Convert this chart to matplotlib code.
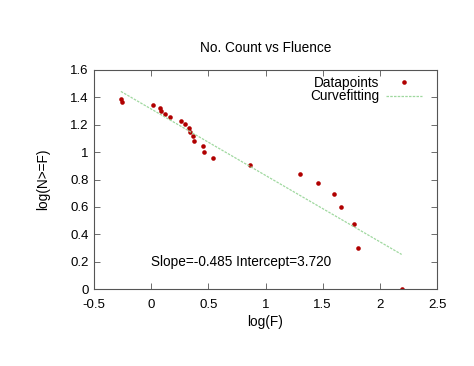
import numpy as np
import matplotlib
matplotlib.use("Agg")
import matplotlib.pyplot as plt

plt.rcParams['font.family'] = ['Liberation Sans', 'DejaVu Sans']

# data
log_f = [-0.265, -0.259, 0.014, 0.076, 0.085, 0.120, 0.164, 0.259, 0.294,
         0.332, 0.338, 0.367, 0.371, 0.450, 0.459, 0.538, 0.865, 1.306,
         1.459, 1.598, 1.662, 1.776, 1.809, 2.191]
log_n = [1.385, 1.363, 1.346, 1.321, 1.302, 1.280, 1.258, 1.231, 1.207,
         1.178, 1.149, 1.115, 1.080, 1.042, 1.000, 0.956, 0.903, 0.842,
         0.777, 0.696, 0.601, 0.477, 0.299, 0.0]
slope = -0.485
line_icpt = 1.315
label_text = "Slope=-0.485 Intercept=3.720"
xticks = [-0.5, 0, 0.5, 1, 1.5, 2, 2.5]
yticks = [0, 0.2, 0.4, 0.6, 0.8, 1, 1.2, 1.4, 1.6]

fig = plt.figure(figsize=(4.74, 3.66), dpi=100)
ax = fig.add_axes([94/474, 1 - 289/366, 343/474, 219/366])

xf = np.array([min(log_f), max(log_f)])
ax.plot(log_f, log_n, 'o', color='#b00000', ms=3.3, mec='none', label='Datapoints')
ax.plot(xf, line_icpt + slope * xf, color='#9fd89f', lw=0.9, ls=(0, (2, 1)),
        label='Curvefitting')

ax.set_xlim(-0.5, 2.5)
ax.set_ylim(0, 1.6)
ax.set_xticks(xticks)
ax.set_xticklabels(['-0.5', '0', '0.5', '1', '1.5', '2', '2.5'])
ax.set_yticks(yticks)
ax.set_yticklabels(['0', '0.2', '0.4', '0.6', '0.8', '1', '1.2', '1.4', '1.6'])
ax.tick_params(direction='in', top=True, right=True, length=4, width=0.6,
               color='#555555', labelsize=9.5, pad=4)
ax.tick_params(axis='x', pad=7)
for s in ax.spines.values():
    s.set_color('#555555')
    s.set_linewidth(0.8)

ax.text(0, 0.2, label_text, fontsize=9.8, va='center', ha='left')
ax.set_title('No. Count vs Fluence', fontsize=9.8, pad=13)
ax.set_xlabel('log(F)', fontsize=9.8, labelpad=3)
ax.set_ylabel('log(N>=F)', fontsize=9.8, labelpad=14)

leg = ax.legend(loc='upper right', bbox_to_anchor=(0.975, 1.0), frameon=False,
                fontsize=9.8, markerfirst=False, handlelength=2.7,
                borderaxespad=0.05, labelspacing=-0.05, handletextpad=0.45)
for t in leg.get_texts():
    t.set_ha('right')

fig.savefig('out.png', dpi=100)
